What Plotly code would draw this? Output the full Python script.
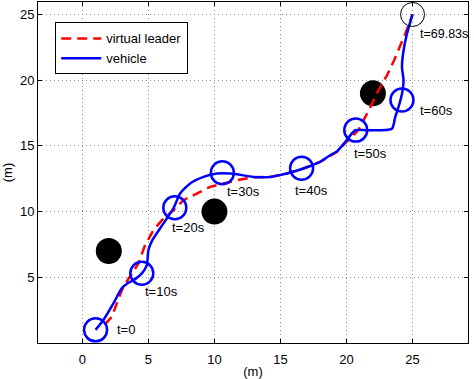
import plotly.graph_objects as go

# Vehicle trajectory (m)
vehicle_x = [1.0, 1.59, 2.35, 2.98, 3.48, 3.99, 4.5, 4.88, 5.0, 5.3, 6.14, 6.89, 7.4, 8.16, 9.17,
             10.18, 11.19, 11.7, 12.95, 14.22, 15.48, 16.74, 18.0, 18.76, 19.3, 19.9, 20.66,
             21.55, 23.44, 23.69, 23.94, 24.2, 24.32, 24.2, 24.32, 24.58, 25.0]
vehicle_y = [1.0, 1.75, 3.02, 4.16, 4.58, 4.86, 5.3, 5.93, 7.07, 7.83, 9.1, 10.24, 11.38, 12.14, 12.64,
             12.9, 12.9, 12.84, 12.64, 12.64, 12.9, 13.28, 13.78, 14.29, 14.6, 15.3, 16.19,
             16.19, 16.31, 17.2, 17.96, 18.97, 19.98, 21.0, 22.26, 23.53, 25.0]

# Virtual leader trajectory (m)
leader_x = [1.7, 2.23, 2.6, 3.1, 3.7, 4.24, 4.75, 5.38, 6.14, 6.89, 7.65, 8.67, 9.67, 10.68, 11.19,
            12.0, 13.0, 14.22, 15.48, 16.74, 18.0, 19.27, 20.0, 20.9, 21.55, 22.55, 23.06, 23.6,
            24.45, 25.0]
leader_y = [1.4, 2.0, 3.0, 4.3, 5.2, 6.06, 7.45, 8.59, 9.48, 10.1, 10.87, 11.38, 11.88, 12.14, 12.26,
            12.45, 12.62, 12.64, 12.9, 13.28, 13.78, 14.54, 15.3, 16.2, 17.45, 19.48, 20.36, 21.5,
            23.53, 25.0]

# Vehicle positions at sampled times
check_x = [1.0, 4.5, 7.0, 10.6, 16.6, 20.7, 24.2]
check_y = [1.0, 5.3, 10.3, 12.95, 13.3, 16.2, 18.5]
check_labels = ["t=0", "t=10s", "t=20s", "t=30s", "t=40s", "t=50s", "t=60s"]

# Final position
end_x = [25.0]
end_y = [25.0]
end_labels = ["t=69.83s"]

# Obstacles
obst_x = [2.0, 10.0, 22.0]
obst_y = [7.0, 10.0, 19.0]

x_ticks = [0, 5, 10, 15, 20, 25]
y_ticks = [5, 10, 15, 20, 25]

# label offsets (layout only)
check_offsets = [(1.5, 0.0), (0.1, -1.4), (-0.4, -1.5), (0.2, -1.4), (-0.65, -1.7), (-0.3, -1.8), (1.2, -0.8)]
end_offsets = [(0.4, -1.5)]

FONT = "Liberation Sans, Arial, sans-serif"

fig = go.Figure()
fig.add_trace(go.Scatter(x=obst_x, y=obst_y, mode="markers", showlegend=False,
                         marker=dict(symbol="circle", size=26, color="black",
                                     line=dict(width=0))))
fig.add_trace(go.Scatter(x=leader_x, y=leader_y, mode="lines", name="virtual leader",
                         line=dict(color="#ff0000", width=2.5, dash="10px,6px")))
fig.add_trace(go.Scatter(x=vehicle_x, y=vehicle_y, mode="lines", name="vehicle",
                         line=dict(color="#0000ff", width=2.5, shape="spline", smoothing=0.6)))
fig.add_trace(go.Scatter(x=check_x, y=check_y, mode="markers", showlegend=False,
                         marker=dict(symbol="circle-open", size=23, color="#0000ff",
                                     line=dict(width=2.5, color="#0000ff"))))
fig.add_trace(go.Scatter(x=end_x, y=end_y, mode="markers", showlegend=False,
                         marker=dict(symbol="circle-open", size=24, color="black",
                                     line=dict(width=1, color="black"))))

annotations = []
for xs, ys, labs, offs, fs in [(check_x, check_y, check_labels, check_offsets, 13),
                               (end_x, end_y, end_labels, end_offsets, 12.5)]:
    for x, y, lab, (dx, dy) in zip(xs, ys, labs, offs):
        annotations.append(dict(x=x + dx, y=y + dy, text=lab, showarrow=False,
                                xanchor="left", yanchor="middle",
                                font=dict(family=FONT, size=fs, color="black")))

axis_common = dict(showline=True, linecolor="black", linewidth=1, mirror="ticks",
                   ticks="inside", ticklen=4, tickcolor="black", automargin=False,
                   showgrid=True, gridcolor="#8c8c8c", griddash="1px,3px", gridwidth=1,
                   zeroline=False, tickfont=dict(family=FONT, size=13, color="black"))

fig.update_layout(
    width=474, height=379,
    margin=dict(l=38, r=6, t=2, b=36, autoexpand=False),
    plot_bgcolor="white", paper_bgcolor="white",
    xaxis=dict(range=[-3.36, 29.2], tickvals=x_ticks, ticklabelstandoff=4,
               title=dict(text="(m)", font=dict(family=FONT, size=13, color="black"), standoff=2),
               **axis_common),
    yaxis=dict(range=[0, 25.95], tickvals=y_ticks,
               title=dict(text="(m)", font=dict(family=FONT, size=13, color="black"), standoff=4),
               **axis_common),
    legend=dict(x=0.04, y=0.94, xanchor="left", yanchor="top",
                bgcolor="white", bordercolor="black", borderwidth=1,
                font=dict(family=FONT, size=13, color="black"),
                tracegroupgap=0, itemwidth=40),
    annotations=annotations,
    showlegend=True,
)

fig.write_html("out.html", config={"displayModeBar": False},
               post_script="document.body.style.margin='0';document.body.style.padding='0';")
